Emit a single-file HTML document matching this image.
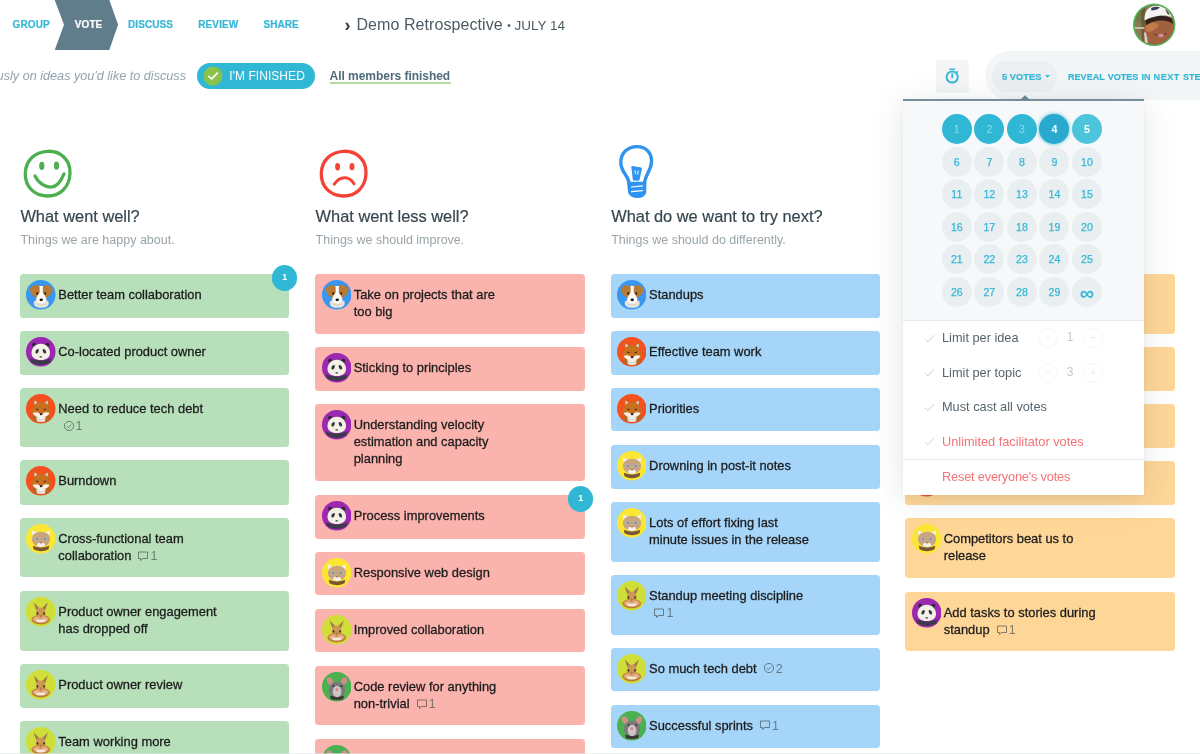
<!DOCTYPE html>
<html lang="en"><head><meta charset="utf-8"><title>Demo Retrospective</title>
<style>
*{box-sizing:border-box;margin:0;padding:0}
html,body{width:1200px;height:754px;overflow:hidden;background:#fff}
body{position:relative;font-family:"Liberation Sans",Arial,sans-serif;color:#222;-webkit-font-smoothing:antialiased}
.abs{position:absolute}
.step{position:absolute;top:18px;height:13px;line-height:13px;font-size:10px;font-weight:700;color:#36b7d6;letter-spacing:.09px;white-space:nowrap;-webkit-text-stroke:.2px currentColor}
.card{position:absolute;border-radius:3.500px}
.g{background:#b7dfb9}.r{background:#fbb3ae}.b{background:#a5d5f9}.o{background:#fed698}
.card .av{position:absolute;left:calc(6.300px + var(--dx));top:6px;width:29.500px;height:29.500px;display:block}
.card .t{position:absolute;left:calc(38.500px + var(--dx));top:11.900px;font-size:12.900px;line-height:17.300px;color:#1c1c1c;white-space:nowrap;-webkit-text-stroke:.28px #1c1c1c;letter-spacing:0}
.meta{color:rgba(60,70,70,.62);-webkit-text-stroke:0;font-size:12.500px;letter-spacing:0;margin-left:2.500px}
.meta.blk{margin-left:4.300px}
.mi{width:12px;height:12px;display:inline-block;vertical-align:-1.500px;margin-right:1px}
.badge{position:absolute;width:25.400px;height:25.400px;border-radius:50%;background:#2fb7d5;color:#fff;font-size:9px;font-weight:700;text-align:center;line-height:25.400px}
.h1{position:absolute;font-size:16.400px;line-height:20px;color:#37474f;white-space:nowrap;-webkit-text-stroke:.2px #37474f}
.h2{position:absolute;font-size:12.500px;line-height:16px;color:#99a4aa;white-space:nowrap}
.vc{position:absolute;width:30px;height:30px;border-radius:50%;background:#e9eef0;color:#36b7d6;font-size:10.600px;line-height:30px;text-align:center;-webkit-text-stroke:.25px #36b7d6}
.vc.on{background:#2fb7d5;color:#8fdbea;-webkit-text-stroke:0}
.mitem{position:absolute;left:942px;font-size:12.750px;line-height:16px;color:#56656d;white-space:nowrap}
.mitem.red{color:#f27275}
.chk{position:absolute;left:923.500px;width:11px;height:9px}
</style></head><body>

<svg class="abs" style="left:54px;top:0" width="66" height="51" viewBox="0 0 66 51"><path d="M.7 0 H55.300 L64.100 24.700 L55.300 50.100 H.7 L10 24.700Z" fill="#607d8b"/></svg>
<div class="step" style="left:12.600px">GROUP</div>
<div class="step" style="left:74.800px;color:#fff">VOTE</div>
<div class="step" style="left:128px">DISCUSS</div>
<div class="step" style="left:198.300px">REVIEW</div>
<div class="step" style="left:263.400px">SHARE</div>
<div class="abs" style="left:344.400px;top:13.600px;height:22px;line-height:22px;font-size:18px;font-weight:700;color:#3a3a3a;white-space:nowrap">&#8250;</div>
<div class="abs" style="left:356.400px;top:14px;height:22px;line-height:22px;font-size:16px;letter-spacing:.08px;color:#4b5a63;white-space:nowrap">Demo Retrospective</div>
<div class="abs" style="left:507.300px;top:15.400px;height:22px;line-height:22px;font-size:10px;color:#4b5a63;white-space:nowrap">&#8226;</div>
<div class="abs" style="left:514.600px;top:14.600px;height:22px;line-height:22px;font-size:13.500px;color:#4b5a63;white-space:nowrap">JULY 14</div>

<svg class="abs" style="left:1132px;top:3px" width="44" height="44" viewBox="0 0 44 44"><defs><clipPath id="uc"><circle cx="22.200" cy="21.800" r="19.600"/></clipPath></defs>
<circle cx="22.200" cy="21.800" r="21.200" fill="#4fb254"/><g clip-path="url(#uc)"><rect width="44" height="44" fill="#8b7a55"/>
<path d="M2 8 L14 4 L15 18 L6 20Z" fill="#6f7a44"/><path d="M9 6 L13 5 L14 40 L10 40Z" fill="#6b5a3a"/><path d="M2 24 H13 V26 H2Z" fill="#b9c3a4"/>
<path d="M12 44 C11 30 12 22 15 18 L41 15 C44 25 42 38 36 44Z" fill="#a2613e"/>
<path d="M14 22 C18 19 24 19 27 22 C24 27 18 30 14 28Z" fill="#c27a47"/>
<path d="M13.200 17.600 C17 14.500 23.800 12.600 30 12.800 C34 13 38.400 14.600 39.500 15.600 L41.500 21 C38 18.500 33 17 28 17.500 C22 18 17 19.800 14 22.500Z" fill="#33211c"/>
<path d="M12.600 17.500 C12 11 15 5.500 18.500 4.300 C22 2.600 27 2.400 31 3.600 C35.500 5 39 10 39.700 14.200 C36 12.600 31 12.200 26 12.900 C21 13.600 16 15.300 12.600 17.500Z" fill="#f4f2f0"/>
<path d="M19 5.200 C22 3.400 26 3.300 28 4.200 C26 6.500 22 7.600 19.500 7.500Z" fill="#39405a"/>
<path d="M33 6 C35.500 7.500 37.500 10 38 12 L35.500 11Z" fill="#5a4a44"/>
<ellipse cx="29" cy="32.500" rx="2.600" ry="1.700" fill="#d88aa8"/><path d="M22 31 L25 32.500 M32 31.500 L34.500 30.500" stroke="#5c3325" stroke-width="1"/>
<path d="M12 30 C13 36 13 40 12 44 L16 44 C16 38 15 33 13.500 29Z" fill="#d9d2c8"/></g></svg>

<div class="abs" style="left:-114px;top:68px;width:300px;text-align:right;font-size:12.650px;line-height:16px;font-style:italic;color:#93a2ab;white-space:nowrap">Vote anonymously on ideas you'd like to discuss</div>

<div class="abs" style="left:196.600px;top:63.200px;width:118.300px;height:26.200px;border-radius:13.100px;background:#2fb7d5"></div>
<svg class="abs" style="left:202.500px;top:66px" width="20" height="20" viewBox="0 0 20 20"><circle cx="10" cy="10" r="9.500" fill="#8bc34a"/><path d="M5.800 10.300 L8.700 13 L14.300 7.200" fill="none" stroke="#fff" stroke-width="1.700" stroke-linecap="round" stroke-linejoin="round"/></svg>
<div class="abs" style="left:229.300px;top:68.300px;font-size:12px;line-height:16px;color:#fff;white-space:nowrap;letter-spacing:.05px">I'M FINISHED</div>
<div class="abs" style="left:329.600px;top:68.400px;font-size:12px;line-height:16px;color:#4f6b7a;font-weight:700;white-space:nowrap;letter-spacing:-.04px">All members finished</div>
<div class="abs" style="left:329.600px;top:82.300px;width:121.200px;height:1.300px;background:#b4dba0"></div>

<div class="abs" style="left:936px;top:60px;width:33px;height:33px;border-radius:4px;background:#f3f5f6"></div>
<svg class="abs" style="left:944px;top:67px" width="17" height="17" viewBox="0 0 17 17"><circle cx="8.200" cy="10" r="5.600" fill="none" stroke="#3ab9d6" stroke-width="2"/><path d="M5.900 2.300 H10.600" fill="none" stroke="#3ab9d6" stroke-width="1.500" stroke-linecap="round"/><path d="M8.200 6.900 V10.500" fill="none" stroke="#3ab9d6" stroke-width="1.800" stroke-linecap="round"/><path d="M12.200 6 L13.300 4.900" stroke="#3ab9d6" stroke-width="1.700" stroke-linecap="round"/></svg>
<div class="abs" style="left:984.500px;top:50.500px;width:260px;height:49px;border-radius:24.500px;background:#f3f6f7"></div>
<div class="abs" style="left:991.800px;top:61px;width:65.500px;height:30.500px;border-radius:15.250px;background:#ebeff1"></div>
<div class="step" style="left:1002.400px;top:70px;font-size:9.800px;letter-spacing:0;transform:scaleX(.952);transform-origin:0 50%">5 VOTES</div>
<svg class="abs" style="left:1045.100px;top:75px" width="5" height="3.400" viewBox="0 0 6 4"><path d="M0 0 H6 L3 3.400Z" fill="#36b7d6"/></svg>
<div class="step" id="rv" style="left:1068.100px;top:70px;font-size:9.800px;letter-spacing:0;word-spacing:.55px;transform:scaleX(.926);transform-origin:0 50%">REVEAL VOTES IN <span style="letter-spacing:.6px">NEXT</span> STEP</div>

<svg class="abs" style="left:20px;top:146px" width="56" height="56" viewBox="0 0 56 56" fill="none" stroke="#4caf50" stroke-linecap="round"><path d="M27.500 5.300 C41 4.600 50.600 14.500 50 27.500 C49.500 41 40 50.400 27 50 C14 49.600 4.800 40.500 5.300 27 C5.800 14.500 14.500 6 27.500 5.300Z" stroke-width="3.300"/><ellipse cx="21.800" cy="19.900" rx="1.800" ry="3.300" fill="#4caf50" stroke-width="1.600"/><ellipse cx="36.500" cy="19.700" rx="1.800" ry="3.300" fill="#4caf50" stroke-width="1.600"/><path d="M15 30 C19 38 26 41.500 31.500 41 C37 40.500 41.500 34 44 27.800" stroke-width="3.200"/></svg>
<svg class="abs" style="left:314.500px;top:146px" width="56" height="56" viewBox="0 0 56 56" fill="none" stroke="#f44336" stroke-linecap="round"><path d="M28.500 5.300 C42 4.600 51.600 14.500 51 27.500 C50.500 41 41 50.400 28 50 C15 49.600 5.800 40.500 6.300 27 C6.800 14.500 15.500 6 28.500 5.300Z" stroke-width="3.300"/><ellipse cx="22.600" cy="20.800" rx="1.700" ry="2.900" fill="#f44336" stroke-width="1.600"/><ellipse cx="37" cy="20.600" rx="1.700" ry="2.900" fill="#f44336" stroke-width="1.600"/><path d="M19.300 38.200 C25 30 34 29.500 39 37.800" stroke-width="3"/></svg>
<svg class="abs" style="left:610px;top:142px" width="56" height="60" viewBox="0 0 56 60" fill="none" stroke="#2f93f0" stroke-linecap="round" stroke-linejoin="round"><path d="M19 40.500 C18 33 10.500 30 10.800 20 C11 10.500 18 4.800 27 4.600 C36 4.500 42 11 41.500 20 C41 29 35.500 32 34.500 40.500" stroke-width="3.400"/><path d="M22.300 25 L31 26.500 L28.500 37.800 L23.800 37.500Z" fill="#2f93f0" stroke-width="2"/><path d="M18.300 41 L35.300 41 L35 50.500 C33 56.300 22 56.300 19.300 50.500Z" fill="#2f93f0" stroke-width="2.400"/><path d="M21.500 45 L32.500 43.800 M21.500 49.600 L32.500 48.600" stroke="#fff" stroke-width="1.200"/><path d="M25 28.300 L25.700 31.800 M28.200 28.900 L27.800 32.300" stroke="#fff" stroke-width=".9"/></svg>

<div class="h1" style="left:20.4px;top:206.300px">What went well?</div>
<div class="h2" style="left:20.4px;top:231.800px">Things we are happy about.</div>
<div class="h1" style="left:315.59999999999997px;top:206.300px">What went less well?</div>
<div class="h2" style="left:315.59999999999997px;top:231.800px">Things we should improve.</div>
<div class="h1" style="left:611.1999999999999px;top:206.300px">What do we want to try next?</div>
<div class="h2" style="left:611.1999999999999px;top:231.800px">Things we should do differently.</div>
<div class="card g" style="--dx:-0.2px;left:20px;top:274px;width:269px;height:44px"><svg class="av" viewBox="0 0 30 30"><circle cx="15" cy="15" r="15" fill="#3a97ef"/>
<path d="M8 22 C7.300 26 10 28.300 15.500 28.300 C21 28.300 23.700 26 23 22 C21 19 10 19 8 22Z" fill="#e7e3dc"/>
<path d="M3.800 9.700 C5 6 8.500 4.700 11.500 5.400 L13.500 6.200 L17.500 6.200 L19.500 5.400 C22.500 4.700 26 6 27.200 9.900 C26.700 13 24.700 15.600 22.600 16.600 L20 19.400 L11 19.400 L8.400 16.600 C6.300 15.600 4.300 13 3.800 9.700Z" fill="#b87a35"/>
<path d="M13.700 6 L17.300 6 L17 12 C17.200 14 19.700 16 20.700 19 C20.700 22.200 18 24 15.500 24 C13 24 10.300 22.200 10.300 19 C11.300 16 13.800 14 14 12Z" fill="#fbfaf7"/>
<circle cx="11.400" cy="13.700" r="1.150" fill="#2a1e18"/><circle cx="19.600" cy="13.700" r="1.150" fill="#2a1e18"/>
<ellipse cx="15.500" cy="20.200" rx="1.750" ry="1.300" fill="#1b1718"/>
<path d="M11 24.500 Q15.500 26.500 20 24.500" stroke="#cfc9c0" stroke-width=".7" fill="none"/></svg><div class="t">Better team collaboration</div></div>
<div class="badge" style="left:272px;top:265.3px">1</div>
<div class="card g" style="--dx:-0.2px;left:20px;top:331px;width:269px;height:44px"><svg class="av" viewBox="0 0 30 30"><circle cx="15" cy="15" r="15" fill="#9c27b0"/>
<path d="M3.800 21.600 Q15 26.500 26.200 21.600 L24.500 26 Q15 31 5.500 26Z" fill="#393c47"/>
<circle cx="8.300" cy="8" r="2.100" fill="#2b2a30"/><circle cx="21.700" cy="8" r="2.100" fill="#2b2a30"/>
<path d="M15 6.800 C20.500 6.800 24.600 11 24.400 16.500 C24.200 21 20.500 23.400 15 23.400 C9.500 23.400 5.800 21 5.600 16.500 C5.400 11 9.500 6.800 15 6.800Z" fill="#f3f0e5"/>
<ellipse cx="11.300" cy="14.500" rx="1.450" ry="2.500" transform="rotate(28 11.300 14.500)" fill="#34333a"/>
<ellipse cx="18.700" cy="14.500" rx="1.450" ry="2.500" transform="rotate(-28 18.700 14.500)" fill="#34333a"/>
<ellipse cx="15" cy="20.200" rx="1.500" ry=".95" fill="#5f6a6b"/></svg><div class="t">Co-located product owner</div></div>
<div class="card g" style="--dx:-0.2px;left:20px;top:388px;width:269px;height:59px"><svg class="av" viewBox="0 0 30 30"><circle cx="15" cy="15" r="15" fill="#f4511e"/>
<path d="M6.500 22 C6 25 8 27.500 11 28.300 L20 28.300 C23 27.500 25 25 24.500 22Z" fill="#b8651f"/>
<path d="M10.200 21.500 L20.200 21.500 L19.400 27.600 Q15.200 29.600 11 27.600Z" fill="#e4ded6"/>
<path d="M7.700 4.800 L13.400 8.800 L8 12.500Z" fill="#c56a1f"/><path d="M23 4.800 L17.300 8.800 L22.700 12.500Z" fill="#c56a1f"/>
<path d="M8.500 6.600 L11.800 9 L8.700 11Z" fill="#dfdad8"/><path d="M22.200 6.600 L18.900 9 L22 11Z" fill="#dfdad8"/>
<path d="M15.350 8.200 C19 8.200 22.500 10.500 23.500 14 C25.500 16 25.600 18.500 24.500 20.200 L15.350 23 L6.200 20.200 C5.100 18.500 5.200 16 7.200 14 C8.200 10.500 11.700 8.200 15.350 8.200Z" fill="#c8701f"/>
<path d="M6.700 19.300 C9.500 18 12.500 18.600 13.800 20 L15.350 21.300 L16.900 20 C18.200 18.600 21.200 18 24 19.300 C23 21.600 20.500 23 18.500 23 L17.500 25.200 L13.200 25.200 L12.200 23 C10.200 23 7.700 21.600 6.700 19.300Z" fill="#f7f0e6"/>
<path d="M10.300 14.700 L13.500 15.800 L10.900 16.500Z" fill="#33251a"/><path d="M20.400 14.700 L17.200 15.800 L19.800 16.500Z" fill="#33251a"/>
<ellipse cx="15.350" cy="20.500" rx="1.300" ry="1" fill="#1d1512"/></svg><div class="t">Need to reduce tech debt<br><span class="meta blk"><svg class="mi" viewBox="0 0 12 12"><circle cx="6" cy="6" r="4.600" fill="none" stroke="currentColor" stroke-width="1"/><path d="M3.800 6.200 L5.400 7.700 L8.300 4.600" fill="none" stroke="currentColor" stroke-width="1"/></svg>1</span></div></div>
<div class="card g" style="--dx:-0.2px;left:20px;top:460px;width:269px;height:45px"><svg class="av" viewBox="0 0 30 30"><circle cx="15" cy="15" r="15" fill="#f4511e"/>
<path d="M6.500 22 C6 25 8 27.500 11 28.300 L20 28.300 C23 27.500 25 25 24.500 22Z" fill="#b8651f"/>
<path d="M10.200 21.500 L20.200 21.500 L19.400 27.600 Q15.200 29.600 11 27.600Z" fill="#e4ded6"/>
<path d="M7.700 4.800 L13.400 8.800 L8 12.500Z" fill="#c56a1f"/><path d="M23 4.800 L17.300 8.800 L22.700 12.500Z" fill="#c56a1f"/>
<path d="M8.500 6.600 L11.800 9 L8.700 11Z" fill="#dfdad8"/><path d="M22.200 6.600 L18.900 9 L22 11Z" fill="#dfdad8"/>
<path d="M15.350 8.200 C19 8.200 22.500 10.500 23.500 14 C25.500 16 25.600 18.500 24.500 20.200 L15.350 23 L6.200 20.200 C5.100 18.500 5.200 16 7.200 14 C8.200 10.500 11.700 8.200 15.350 8.200Z" fill="#c8701f"/>
<path d="M6.700 19.300 C9.500 18 12.500 18.600 13.800 20 L15.350 21.300 L16.900 20 C18.200 18.600 21.200 18 24 19.300 C23 21.600 20.500 23 18.500 23 L17.500 25.200 L13.200 25.200 L12.200 23 C10.200 23 7.700 21.600 6.700 19.300Z" fill="#f7f0e6"/>
<path d="M10.300 14.700 L13.500 15.800 L10.900 16.500Z" fill="#33251a"/><path d="M20.400 14.700 L17.200 15.800 L19.800 16.500Z" fill="#33251a"/>
<ellipse cx="15.350" cy="20.500" rx="1.300" ry="1" fill="#1d1512"/></svg><div class="t">Burndown</div></div>
<div class="card g" style="--dx:-0.2px;left:20px;top:518px;width:269px;height:59px"><svg class="av" viewBox="0 0 30 30"><circle cx="15" cy="15" r="15" fill="#fbe634"/>
<path d="M7 22.200 Q15.200 25.500 23.600 22.200 L23 25.800 Q15.200 29.600 7.600 25.800Z" fill="#7a5634"/>
<path d="M5.900 6.400 L11.200 8.600 L6.700 12.800Z" fill="#f7efe6"/><path d="M24.600 6.400 L19.300 8.600 L23.800 12.800Z" fill="#f7efe6"/>
<path d="M15.250 7.800 C20.500 7.800 24.500 10.800 24.500 15.300 C24.500 19.800 20.500 23.200 15.250 23.200 C10 23.200 6 19.800 6 15.300 C6 10.800 10 7.800 15.250 7.800Z" fill="#c9a57f"/>
<ellipse cx="15.250" cy="21.200" rx="4.200" ry="2.100" fill="#f6f0e8"/>
<ellipse cx="11" cy="15.300" rx="2" ry="1.700" fill="#9fb9c9"/><ellipse cx="19.400" cy="15.300" rx="2" ry="1.700" fill="#9fb9c9"/>
<circle cx="11.200" cy="15.300" r=".7" fill="#3a4656"/><circle cx="19.200" cy="15.300" r=".7" fill="#3a4656"/>
<path d="M14.300 18.700 L16.200 18.700 L15.250 20Z" fill="#4a3020"/></svg><div class="t">Cross-functional team<br>collaboration <span class="meta"><svg class="mi" viewBox="0 0 12 12"><path d="M1.500 2 H10.500 V8.500 H5.500 L3.600 10.600 V8.500 H1.500Z" fill="none" stroke="currentColor" stroke-width="1" stroke-linejoin="round"/></svg>1</span></div></div>
<div class="card g" style="--dx:-0.2px;left:20px;top:591px;width:269px;height:60px"><svg class="av" viewBox="0 0 30 30"><circle cx="15" cy="15" r="15" fill="#cfdf38"/>
<path d="M8 5.600 C9.600 7.500 12.800 10.300 14.600 12.300 L11 13.800 C9.600 11.300 8.300 8.300 8 5.600Z" fill="#a67a48"/>
<path d="M22 5.600 C20.400 7.500 17.200 10.300 15.400 12.300 L19 13.800 C20.400 11.300 21.700 8.300 22 5.600Z" fill="#a67a48"/>
<ellipse cx="15" cy="16" rx="4.900" ry="5.200" fill="#cb9856"/>
<ellipse cx="15" cy="23" rx="9.500" ry="4.900" fill="#b97a35"/>
<ellipse cx="15" cy="22.500" rx="8.200" ry="3.900" fill="#d9a066"/>
<ellipse cx="10.800" cy="22.600" rx="2.500" ry="1.700" fill="#ecb79a"/><ellipse cx="19.200" cy="22.600" rx="2.500" ry="1.700" fill="#ecb79a"/>
<ellipse cx="15" cy="24.300" rx="4.600" ry="1.500" fill="#f5e9dc"/>
<ellipse cx="11.700" cy="16.700" rx=".8" ry="1.200" fill="#2f2016"/><ellipse cx="18.300" cy="16.700" rx=".8" ry="1.200" fill="#2f2016"/>
<path d="M13.800 18.600 L16.200 18.600 L15 21Z" fill="#a8713a"/></svg><div class="t">Product owner engagement<br>has dropped off</div></div>
<div class="card g" style="--dx:-0.2px;left:20px;top:664px;width:269px;height:44px"><svg class="av" viewBox="0 0 30 30"><circle cx="15" cy="15" r="15" fill="#cfdf38"/>
<path d="M8 5.600 C9.600 7.500 12.800 10.300 14.600 12.300 L11 13.800 C9.600 11.300 8.300 8.300 8 5.600Z" fill="#a67a48"/>
<path d="M22 5.600 C20.400 7.500 17.200 10.300 15.400 12.300 L19 13.800 C20.400 11.300 21.700 8.300 22 5.600Z" fill="#a67a48"/>
<ellipse cx="15" cy="16" rx="4.900" ry="5.200" fill="#cb9856"/>
<ellipse cx="15" cy="23" rx="9.500" ry="4.900" fill="#b97a35"/>
<ellipse cx="15" cy="22.500" rx="8.200" ry="3.900" fill="#d9a066"/>
<ellipse cx="10.800" cy="22.600" rx="2.500" ry="1.700" fill="#ecb79a"/><ellipse cx="19.200" cy="22.600" rx="2.500" ry="1.700" fill="#ecb79a"/>
<ellipse cx="15" cy="24.300" rx="4.600" ry="1.500" fill="#f5e9dc"/>
<ellipse cx="11.700" cy="16.700" rx=".8" ry="1.200" fill="#2f2016"/><ellipse cx="18.300" cy="16.700" rx=".8" ry="1.200" fill="#2f2016"/>
<path d="M13.800 18.600 L16.200 18.600 L15 21Z" fill="#a8713a"/></svg><div class="t">Product owner review</div></div>
<div class="card g" style="--dx:-0.2px;left:20px;top:721px;width:269px;height:44px"><svg class="av" viewBox="0 0 30 30"><circle cx="15" cy="15" r="15" fill="#cfdf38"/>
<path d="M8 5.600 C9.600 7.500 12.800 10.300 14.600 12.300 L11 13.800 C9.600 11.300 8.300 8.300 8 5.600Z" fill="#a67a48"/>
<path d="M22 5.600 C20.400 7.500 17.200 10.300 15.400 12.300 L19 13.800 C20.400 11.300 21.700 8.300 22 5.600Z" fill="#a67a48"/>
<ellipse cx="15" cy="16" rx="4.900" ry="5.200" fill="#cb9856"/>
<ellipse cx="15" cy="23" rx="9.500" ry="4.900" fill="#b97a35"/>
<ellipse cx="15" cy="22.500" rx="8.200" ry="3.900" fill="#d9a066"/>
<ellipse cx="10.800" cy="22.600" rx="2.500" ry="1.700" fill="#ecb79a"/><ellipse cx="19.200" cy="22.600" rx="2.500" ry="1.700" fill="#ecb79a"/>
<ellipse cx="15" cy="24.300" rx="4.600" ry="1.500" fill="#f5e9dc"/>
<ellipse cx="11.700" cy="16.700" rx=".8" ry="1.200" fill="#2f2016"/><ellipse cx="18.300" cy="16.700" rx=".8" ry="1.200" fill="#2f2016"/>
<path d="M13.800 18.600 L16.200 18.600 L15 21Z" fill="#a8713a"/></svg><div class="t">Team working more</div></div>
<div class="card r" style="--dx:0.2px;left:315px;top:274px;width:270px;height:60px"><svg class="av" viewBox="0 0 30 30"><circle cx="15" cy="15" r="15" fill="#3a97ef"/>
<path d="M8 22 C7.300 26 10 28.300 15.500 28.300 C21 28.300 23.700 26 23 22 C21 19 10 19 8 22Z" fill="#e7e3dc"/>
<path d="M3.800 9.700 C5 6 8.500 4.700 11.500 5.400 L13.500 6.200 L17.500 6.200 L19.500 5.400 C22.500 4.700 26 6 27.200 9.900 C26.700 13 24.700 15.600 22.600 16.600 L20 19.400 L11 19.400 L8.400 16.600 C6.300 15.600 4.300 13 3.800 9.700Z" fill="#b87a35"/>
<path d="M13.700 6 L17.300 6 L17 12 C17.200 14 19.700 16 20.700 19 C20.700 22.200 18 24 15.500 24 C13 24 10.300 22.200 10.300 19 C11.300 16 13.800 14 14 12Z" fill="#fbfaf7"/>
<circle cx="11.400" cy="13.700" r="1.150" fill="#2a1e18"/><circle cx="19.600" cy="13.700" r="1.150" fill="#2a1e18"/>
<ellipse cx="15.500" cy="20.200" rx="1.750" ry="1.300" fill="#1b1718"/>
<path d="M11 24.500 Q15.500 26.500 20 24.500" stroke="#cfc9c0" stroke-width=".7" fill="none"/></svg><div class="t">Take on projects that are<br>too big</div></div>
<div class="card r" style="--dx:0.2px;left:315px;top:347px;width:270px;height:44px"><svg class="av" viewBox="0 0 30 30"><circle cx="15" cy="15" r="15" fill="#9c27b0"/>
<path d="M3.800 21.600 Q15 26.500 26.200 21.600 L24.500 26 Q15 31 5.500 26Z" fill="#393c47"/>
<circle cx="8.300" cy="8" r="2.100" fill="#2b2a30"/><circle cx="21.700" cy="8" r="2.100" fill="#2b2a30"/>
<path d="M15 6.800 C20.500 6.800 24.600 11 24.400 16.500 C24.200 21 20.500 23.400 15 23.400 C9.500 23.400 5.800 21 5.600 16.500 C5.400 11 9.500 6.800 15 6.800Z" fill="#f3f0e5"/>
<ellipse cx="11.300" cy="14.500" rx="1.450" ry="2.500" transform="rotate(28 11.300 14.500)" fill="#34333a"/>
<ellipse cx="18.700" cy="14.500" rx="1.450" ry="2.500" transform="rotate(-28 18.700 14.500)" fill="#34333a"/>
<ellipse cx="15" cy="20.200" rx="1.500" ry=".95" fill="#5f6a6b"/></svg><div class="t">Sticking to principles</div></div>
<div class="card r" style="--dx:0.2px;left:315px;top:404px;width:270px;height:77px"><svg class="av" viewBox="0 0 30 30"><circle cx="15" cy="15" r="15" fill="#9c27b0"/>
<path d="M3.800 21.600 Q15 26.500 26.200 21.600 L24.500 26 Q15 31 5.500 26Z" fill="#393c47"/>
<circle cx="8.300" cy="8" r="2.100" fill="#2b2a30"/><circle cx="21.700" cy="8" r="2.100" fill="#2b2a30"/>
<path d="M15 6.800 C20.500 6.800 24.600 11 24.400 16.500 C24.200 21 20.500 23.400 15 23.400 C9.500 23.400 5.800 21 5.600 16.500 C5.400 11 9.500 6.800 15 6.800Z" fill="#f3f0e5"/>
<ellipse cx="11.300" cy="14.500" rx="1.450" ry="2.500" transform="rotate(28 11.300 14.500)" fill="#34333a"/>
<ellipse cx="18.700" cy="14.500" rx="1.450" ry="2.500" transform="rotate(-28 18.700 14.500)" fill="#34333a"/>
<ellipse cx="15" cy="20.200" rx="1.500" ry=".95" fill="#5f6a6b"/></svg><div class="t">Understanding velocity<br>estimation and capacity<br>planning</div></div>
<div class="card r" style="--dx:0.2px;left:315px;top:495px;width:270px;height:44px"><svg class="av" viewBox="0 0 30 30"><circle cx="15" cy="15" r="15" fill="#9c27b0"/>
<path d="M3.800 21.600 Q15 26.500 26.200 21.600 L24.500 26 Q15 31 5.500 26Z" fill="#393c47"/>
<circle cx="8.300" cy="8" r="2.100" fill="#2b2a30"/><circle cx="21.700" cy="8" r="2.100" fill="#2b2a30"/>
<path d="M15 6.800 C20.500 6.800 24.600 11 24.400 16.500 C24.200 21 20.500 23.400 15 23.400 C9.500 23.400 5.800 21 5.600 16.500 C5.400 11 9.500 6.800 15 6.800Z" fill="#f3f0e5"/>
<ellipse cx="11.300" cy="14.500" rx="1.450" ry="2.500" transform="rotate(28 11.300 14.500)" fill="#34333a"/>
<ellipse cx="18.700" cy="14.500" rx="1.450" ry="2.500" transform="rotate(-28 18.700 14.500)" fill="#34333a"/>
<ellipse cx="15" cy="20.200" rx="1.500" ry=".95" fill="#5f6a6b"/></svg><div class="t">Process improvements</div></div>
<div class="badge" style="left:568px;top:486.3px">1</div>
<div class="card r" style="--dx:0.2px;left:315px;top:552px;width:270px;height:43px"><svg class="av" viewBox="0 0 30 30"><circle cx="15" cy="15" r="15" fill="#fbe634"/>
<path d="M7 22.200 Q15.200 25.500 23.600 22.200 L23 25.800 Q15.200 29.600 7.600 25.800Z" fill="#7a5634"/>
<path d="M5.900 6.400 L11.200 8.600 L6.700 12.800Z" fill="#f7efe6"/><path d="M24.600 6.400 L19.300 8.600 L23.800 12.800Z" fill="#f7efe6"/>
<path d="M15.250 7.800 C20.500 7.800 24.500 10.800 24.500 15.300 C24.500 19.800 20.500 23.200 15.250 23.200 C10 23.200 6 19.800 6 15.300 C6 10.800 10 7.800 15.250 7.800Z" fill="#c9a57f"/>
<ellipse cx="15.250" cy="21.200" rx="4.200" ry="2.100" fill="#f6f0e8"/>
<ellipse cx="11" cy="15.300" rx="2" ry="1.700" fill="#9fb9c9"/><ellipse cx="19.400" cy="15.300" rx="2" ry="1.700" fill="#9fb9c9"/>
<circle cx="11.200" cy="15.300" r=".7" fill="#3a4656"/><circle cx="19.200" cy="15.300" r=".7" fill="#3a4656"/>
<path d="M14.300 18.700 L16.200 18.700 L15.250 20Z" fill="#4a3020"/></svg><div class="t">Responsive web design</div></div>
<div class="card r" style="--dx:0.2px;left:315px;top:609px;width:270px;height:43px"><svg class="av" viewBox="0 0 30 30"><circle cx="15" cy="15" r="15" fill="#cfdf38"/>
<path d="M8 5.600 C9.600 7.500 12.800 10.300 14.600 12.300 L11 13.800 C9.600 11.300 8.300 8.300 8 5.600Z" fill="#a67a48"/>
<path d="M22 5.600 C20.400 7.500 17.200 10.300 15.400 12.300 L19 13.800 C20.400 11.300 21.700 8.300 22 5.600Z" fill="#a67a48"/>
<ellipse cx="15" cy="16" rx="4.900" ry="5.200" fill="#cb9856"/>
<ellipse cx="15" cy="23" rx="9.500" ry="4.900" fill="#b97a35"/>
<ellipse cx="15" cy="22.500" rx="8.200" ry="3.900" fill="#d9a066"/>
<ellipse cx="10.800" cy="22.600" rx="2.500" ry="1.700" fill="#ecb79a"/><ellipse cx="19.200" cy="22.600" rx="2.500" ry="1.700" fill="#ecb79a"/>
<ellipse cx="15" cy="24.300" rx="4.600" ry="1.500" fill="#f5e9dc"/>
<ellipse cx="11.700" cy="16.700" rx=".8" ry="1.200" fill="#2f2016"/><ellipse cx="18.300" cy="16.700" rx=".8" ry="1.200" fill="#2f2016"/>
<path d="M13.800 18.600 L16.200 18.600 L15 21Z" fill="#a8713a"/></svg><div class="t">Improved collaboration</div></div>
<div class="card r" style="--dx:0.2px;left:315px;top:666px;width:270px;height:59px"><svg class="av" viewBox="0 0 30 30"><circle cx="15" cy="15" r="15" fill="#4caf50"/>
<ellipse cx="8.100" cy="9.200" rx="2.900" ry="4" transform="rotate(-28 8.100 9.200)" fill="#cf8f89"/><ellipse cx="22.300" cy="9.200" rx="2.900" ry="4" transform="rotate(28 22.300 9.200)" fill="#cf8f89"/>
<path d="M15.300 9.800 C19.500 9.800 23 12.500 23.400 17.500 C23.700 22 21 26 15.300 26.200 C9.600 26 6.900 22 7.200 17.500 C7.600 12.500 11.100 9.800 15.300 9.800Z" fill="#7b787c"/>
<path d="M8.200 24 Q15.300 27 22.400 24 L21.500 27.600 Q15.300 29.200 9.100 27.600Z" fill="#3b3531"/>
<ellipse cx="15.300" cy="19.800" rx="4.400" ry="5.800" fill="#cdc5c4"/>
<circle cx="11.600" cy="14.300" r=".95" fill="#2a2223"/><circle cx="19.600" cy="14.300" r=".95" fill="#2a2223"/>
<ellipse cx="15.100" cy="18" rx="1.400" ry="1.700" fill="#d88484"/></svg><div class="t">Code review for anything<br>non-trivial <span class="meta"><svg class="mi" viewBox="0 0 12 12"><path d="M1.500 2 H10.500 V8.500 H5.500 L3.600 10.600 V8.500 H1.500Z" fill="none" stroke="currentColor" stroke-width="1" stroke-linejoin="round"/></svg>1</span></div></div>
<div class="card r" style="--dx:0.2px;left:315px;top:739px;width:270px;height:44px"><svg class="av" viewBox="0 0 30 30"><circle cx="15" cy="15" r="15" fill="#4caf50"/>
<ellipse cx="8.100" cy="9.200" rx="2.900" ry="4" transform="rotate(-28 8.100 9.200)" fill="#cf8f89"/><ellipse cx="22.300" cy="9.200" rx="2.900" ry="4" transform="rotate(28 22.300 9.200)" fill="#cf8f89"/>
<path d="M15.300 9.800 C19.500 9.800 23 12.500 23.400 17.500 C23.700 22 21 26 15.300 26.200 C9.600 26 6.900 22 7.200 17.500 C7.600 12.500 11.100 9.800 15.300 9.800Z" fill="#7b787c"/>
<path d="M8.200 24 Q15.300 27 22.400 24 L21.500 27.600 Q15.300 29.200 9.100 27.600Z" fill="#3b3531"/>
<ellipse cx="15.300" cy="19.800" rx="4.400" ry="5.800" fill="#cdc5c4"/>
<circle cx="11.600" cy="14.300" r=".95" fill="#2a2223"/><circle cx="19.600" cy="14.300" r=".95" fill="#2a2223"/>
<ellipse cx="15.100" cy="18" rx="1.400" ry="1.700" fill="#d88484"/></svg><div class="t">Daily standups</div></div>
<div class="card b" style="--dx:-0.4px;left:611px;top:274px;width:268.5px;height:44px"><svg class="av" viewBox="0 0 30 30"><circle cx="15" cy="15" r="15" fill="#3a97ef"/>
<path d="M8 22 C7.300 26 10 28.300 15.500 28.300 C21 28.300 23.700 26 23 22 C21 19 10 19 8 22Z" fill="#e7e3dc"/>
<path d="M3.800 9.700 C5 6 8.500 4.700 11.500 5.400 L13.500 6.200 L17.500 6.200 L19.500 5.400 C22.500 4.700 26 6 27.200 9.900 C26.700 13 24.700 15.600 22.600 16.600 L20 19.400 L11 19.400 L8.400 16.600 C6.300 15.600 4.300 13 3.800 9.700Z" fill="#b87a35"/>
<path d="M13.700 6 L17.300 6 L17 12 C17.200 14 19.700 16 20.700 19 C20.700 22.200 18 24 15.500 24 C13 24 10.300 22.200 10.300 19 C11.300 16 13.800 14 14 12Z" fill="#fbfaf7"/>
<circle cx="11.400" cy="13.700" r="1.150" fill="#2a1e18"/><circle cx="19.600" cy="13.700" r="1.150" fill="#2a1e18"/>
<ellipse cx="15.500" cy="20.200" rx="1.750" ry="1.300" fill="#1b1718"/>
<path d="M11 24.500 Q15.500 26.500 20 24.500" stroke="#cfc9c0" stroke-width=".7" fill="none"/></svg><div class="t">Standups</div></div>
<div class="card b" style="--dx:-0.4px;left:611px;top:331px;width:268.5px;height:44px"><svg class="av" viewBox="0 0 30 30"><circle cx="15" cy="15" r="15" fill="#f4511e"/>
<path d="M6.500 22 C6 25 8 27.500 11 28.300 L20 28.300 C23 27.500 25 25 24.500 22Z" fill="#b8651f"/>
<path d="M10.200 21.500 L20.200 21.500 L19.400 27.600 Q15.200 29.600 11 27.600Z" fill="#e4ded6"/>
<path d="M7.700 4.800 L13.400 8.800 L8 12.500Z" fill="#c56a1f"/><path d="M23 4.800 L17.300 8.800 L22.700 12.500Z" fill="#c56a1f"/>
<path d="M8.500 6.600 L11.800 9 L8.700 11Z" fill="#dfdad8"/><path d="M22.200 6.600 L18.900 9 L22 11Z" fill="#dfdad8"/>
<path d="M15.350 8.200 C19 8.200 22.500 10.500 23.500 14 C25.500 16 25.600 18.500 24.500 20.200 L15.350 23 L6.200 20.200 C5.100 18.500 5.200 16 7.200 14 C8.200 10.500 11.700 8.200 15.350 8.200Z" fill="#c8701f"/>
<path d="M6.700 19.300 C9.500 18 12.500 18.600 13.800 20 L15.350 21.300 L16.900 20 C18.200 18.600 21.200 18 24 19.300 C23 21.600 20.500 23 18.500 23 L17.500 25.200 L13.200 25.200 L12.200 23 C10.200 23 7.700 21.600 6.700 19.300Z" fill="#f7f0e6"/>
<path d="M10.300 14.700 L13.500 15.800 L10.900 16.500Z" fill="#33251a"/><path d="M20.400 14.700 L17.200 15.800 L19.800 16.500Z" fill="#33251a"/>
<ellipse cx="15.350" cy="20.500" rx="1.300" ry="1" fill="#1d1512"/></svg><div class="t">Effective team work</div></div>
<div class="card b" style="--dx:-0.4px;left:611px;top:388px;width:268.5px;height:43px"><svg class="av" viewBox="0 0 30 30"><circle cx="15" cy="15" r="15" fill="#f4511e"/>
<path d="M6.500 22 C6 25 8 27.500 11 28.300 L20 28.300 C23 27.500 25 25 24.500 22Z" fill="#b8651f"/>
<path d="M10.200 21.500 L20.200 21.500 L19.400 27.600 Q15.200 29.600 11 27.600Z" fill="#e4ded6"/>
<path d="M7.700 4.800 L13.400 8.800 L8 12.500Z" fill="#c56a1f"/><path d="M23 4.800 L17.300 8.800 L22.700 12.500Z" fill="#c56a1f"/>
<path d="M8.500 6.600 L11.800 9 L8.700 11Z" fill="#dfdad8"/><path d="M22.200 6.600 L18.900 9 L22 11Z" fill="#dfdad8"/>
<path d="M15.350 8.200 C19 8.200 22.500 10.500 23.500 14 C25.500 16 25.600 18.500 24.500 20.200 L15.350 23 L6.200 20.200 C5.100 18.500 5.200 16 7.200 14 C8.200 10.500 11.700 8.200 15.350 8.200Z" fill="#c8701f"/>
<path d="M6.700 19.300 C9.500 18 12.500 18.600 13.800 20 L15.350 21.300 L16.900 20 C18.200 18.600 21.200 18 24 19.300 C23 21.600 20.500 23 18.500 23 L17.500 25.200 L13.200 25.200 L12.200 23 C10.200 23 7.700 21.600 6.700 19.300Z" fill="#f7f0e6"/>
<path d="M10.300 14.700 L13.500 15.800 L10.900 16.500Z" fill="#33251a"/><path d="M20.400 14.700 L17.200 15.800 L19.800 16.500Z" fill="#33251a"/>
<ellipse cx="15.350" cy="20.500" rx="1.300" ry="1" fill="#1d1512"/></svg><div class="t">Priorities</div></div>
<div class="card b" style="--dx:-0.4px;left:611px;top:445px;width:268.5px;height:44px"><svg class="av" viewBox="0 0 30 30"><circle cx="15" cy="15" r="15" fill="#fbe634"/>
<path d="M7 22.200 Q15.200 25.500 23.600 22.200 L23 25.800 Q15.200 29.600 7.600 25.800Z" fill="#7a5634"/>
<path d="M5.900 6.400 L11.200 8.600 L6.700 12.800Z" fill="#f7efe6"/><path d="M24.600 6.400 L19.300 8.600 L23.800 12.800Z" fill="#f7efe6"/>
<path d="M15.250 7.800 C20.500 7.800 24.500 10.800 24.500 15.300 C24.500 19.800 20.500 23.200 15.250 23.200 C10 23.200 6 19.800 6 15.300 C6 10.800 10 7.800 15.250 7.800Z" fill="#c9a57f"/>
<ellipse cx="15.250" cy="21.200" rx="4.200" ry="2.100" fill="#f6f0e8"/>
<ellipse cx="11" cy="15.300" rx="2" ry="1.700" fill="#9fb9c9"/><ellipse cx="19.400" cy="15.300" rx="2" ry="1.700" fill="#9fb9c9"/>
<circle cx="11.200" cy="15.300" r=".7" fill="#3a4656"/><circle cx="19.200" cy="15.300" r=".7" fill="#3a4656"/>
<path d="M14.300 18.700 L16.200 18.700 L15.250 20Z" fill="#4a3020"/></svg><div class="t">Drowning in post-it notes</div></div>
<div class="card b" style="--dx:-0.4px;left:611px;top:502px;width:268.5px;height:60px"><svg class="av" viewBox="0 0 30 30"><circle cx="15" cy="15" r="15" fill="#fbe634"/>
<path d="M7 22.200 Q15.200 25.500 23.600 22.200 L23 25.800 Q15.200 29.600 7.600 25.800Z" fill="#7a5634"/>
<path d="M5.900 6.400 L11.200 8.600 L6.700 12.800Z" fill="#f7efe6"/><path d="M24.600 6.400 L19.300 8.600 L23.800 12.800Z" fill="#f7efe6"/>
<path d="M15.250 7.800 C20.500 7.800 24.500 10.800 24.500 15.300 C24.500 19.800 20.500 23.200 15.250 23.200 C10 23.200 6 19.800 6 15.300 C6 10.800 10 7.800 15.250 7.800Z" fill="#c9a57f"/>
<ellipse cx="15.250" cy="21.200" rx="4.200" ry="2.100" fill="#f6f0e8"/>
<ellipse cx="11" cy="15.300" rx="2" ry="1.700" fill="#9fb9c9"/><ellipse cx="19.400" cy="15.300" rx="2" ry="1.700" fill="#9fb9c9"/>
<circle cx="11.200" cy="15.300" r=".7" fill="#3a4656"/><circle cx="19.200" cy="15.300" r=".7" fill="#3a4656"/>
<path d="M14.300 18.700 L16.200 18.700 L15.250 20Z" fill="#4a3020"/></svg><div class="t">Lots of effort fixing last<br>minute issues in the release</div></div>
<div class="card b" style="--dx:-0.4px;left:611px;top:575px;width:268.5px;height:60px"><svg class="av" viewBox="0 0 30 30"><circle cx="15" cy="15" r="15" fill="#cfdf38"/>
<path d="M8 5.600 C9.600 7.500 12.800 10.300 14.600 12.300 L11 13.800 C9.600 11.300 8.300 8.300 8 5.600Z" fill="#a67a48"/>
<path d="M22 5.600 C20.400 7.500 17.200 10.300 15.400 12.300 L19 13.800 C20.400 11.300 21.700 8.300 22 5.600Z" fill="#a67a48"/>
<ellipse cx="15" cy="16" rx="4.900" ry="5.200" fill="#cb9856"/>
<ellipse cx="15" cy="23" rx="9.500" ry="4.900" fill="#b97a35"/>
<ellipse cx="15" cy="22.500" rx="8.200" ry="3.900" fill="#d9a066"/>
<ellipse cx="10.800" cy="22.600" rx="2.500" ry="1.700" fill="#ecb79a"/><ellipse cx="19.200" cy="22.600" rx="2.500" ry="1.700" fill="#ecb79a"/>
<ellipse cx="15" cy="24.300" rx="4.600" ry="1.500" fill="#f5e9dc"/>
<ellipse cx="11.700" cy="16.700" rx=".8" ry="1.200" fill="#2f2016"/><ellipse cx="18.300" cy="16.700" rx=".8" ry="1.200" fill="#2f2016"/>
<path d="M13.800 18.600 L16.200 18.600 L15 21Z" fill="#a8713a"/></svg><div class="t">Standup meeting discipline<br><span class="meta blk"><svg class="mi" viewBox="0 0 12 12"><path d="M1.500 2 H10.500 V8.500 H5.500 L3.600 10.600 V8.500 H1.500Z" fill="none" stroke="currentColor" stroke-width="1" stroke-linejoin="round"/></svg>1</span></div></div>
<div class="card b" style="--dx:-0.4px;left:611px;top:648px;width:268.5px;height:43px"><svg class="av" viewBox="0 0 30 30"><circle cx="15" cy="15" r="15" fill="#cfdf38"/>
<path d="M8 5.600 C9.600 7.500 12.800 10.300 14.600 12.300 L11 13.800 C9.600 11.300 8.300 8.300 8 5.600Z" fill="#a67a48"/>
<path d="M22 5.600 C20.400 7.500 17.200 10.300 15.400 12.300 L19 13.800 C20.400 11.300 21.700 8.300 22 5.600Z" fill="#a67a48"/>
<ellipse cx="15" cy="16" rx="4.900" ry="5.200" fill="#cb9856"/>
<ellipse cx="15" cy="23" rx="9.500" ry="4.900" fill="#b97a35"/>
<ellipse cx="15" cy="22.500" rx="8.200" ry="3.900" fill="#d9a066"/>
<ellipse cx="10.800" cy="22.600" rx="2.500" ry="1.700" fill="#ecb79a"/><ellipse cx="19.200" cy="22.600" rx="2.500" ry="1.700" fill="#ecb79a"/>
<ellipse cx="15" cy="24.300" rx="4.600" ry="1.500" fill="#f5e9dc"/>
<ellipse cx="11.700" cy="16.700" rx=".8" ry="1.200" fill="#2f2016"/><ellipse cx="18.300" cy="16.700" rx=".8" ry="1.200" fill="#2f2016"/>
<path d="M13.800 18.600 L16.200 18.600 L15 21Z" fill="#a8713a"/></svg><div class="t">So much tech debt <span class="meta"><svg class="mi" viewBox="0 0 12 12"><circle cx="6" cy="6" r="4.600" fill="none" stroke="currentColor" stroke-width="1"/><path d="M3.800 6.200 L5.400 7.700 L8.300 4.600" fill="none" stroke="currentColor" stroke-width="1"/></svg>2</span></div></div>
<div class="card b" style="--dx:-0.4px;left:611px;top:705px;width:268.5px;height:43px"><svg class="av" viewBox="0 0 30 30"><circle cx="15" cy="15" r="15" fill="#4caf50"/>
<ellipse cx="8.100" cy="9.200" rx="2.900" ry="4" transform="rotate(-28 8.100 9.200)" fill="#cf8f89"/><ellipse cx="22.300" cy="9.200" rx="2.900" ry="4" transform="rotate(28 22.300 9.200)" fill="#cf8f89"/>
<path d="M15.300 9.800 C19.500 9.800 23 12.500 23.400 17.500 C23.700 22 21 26 15.300 26.200 C9.600 26 6.900 22 7.200 17.500 C7.600 12.500 11.100 9.800 15.300 9.800Z" fill="#7b787c"/>
<path d="M8.200 24 Q15.300 27 22.400 24 L21.500 27.600 Q15.300 29.200 9.100 27.600Z" fill="#3b3531"/>
<ellipse cx="15.300" cy="19.800" rx="4.400" ry="5.800" fill="#cdc5c4"/>
<circle cx="11.600" cy="14.300" r=".95" fill="#2a2223"/><circle cx="19.600" cy="14.300" r=".95" fill="#2a2223"/>
<ellipse cx="15.100" cy="18" rx="1.400" ry="1.700" fill="#d88484"/></svg><div class="t">Successful sprints <span class="meta"><svg class="mi" viewBox="0 0 12 12"><path d="M1.500 2 H10.500 V8.500 H5.500 L3.600 10.600 V8.500 H1.500Z" fill="none" stroke="currentColor" stroke-width="1" stroke-linejoin="round"/></svg>1</span></div></div>
<div class="card o" style="--dx:0.2px;left:905px;top:274px;width:270px;height:60px"><svg class="av" viewBox="0 0 30 30"><circle cx="15" cy="15" r="15" fill="#3a97ef"/>
<path d="M8 22 C7.300 26 10 28.300 15.500 28.300 C21 28.300 23.700 26 23 22 C21 19 10 19 8 22Z" fill="#e7e3dc"/>
<path d="M3.800 9.700 C5 6 8.500 4.700 11.500 5.400 L13.500 6.200 L17.500 6.200 L19.500 5.400 C22.500 4.700 26 6 27.200 9.900 C26.700 13 24.700 15.600 22.600 16.600 L20 19.400 L11 19.400 L8.400 16.600 C6.300 15.600 4.300 13 3.800 9.700Z" fill="#b87a35"/>
<path d="M13.700 6 L17.300 6 L17 12 C17.200 14 19.700 16 20.700 19 C20.700 22.200 18 24 15.500 24 C13 24 10.300 22.200 10.300 19 C11.300 16 13.800 14 14 12Z" fill="#fbfaf7"/>
<circle cx="11.400" cy="13.700" r="1.150" fill="#2a1e18"/><circle cx="19.600" cy="13.700" r="1.150" fill="#2a1e18"/>
<ellipse cx="15.500" cy="20.200" rx="1.750" ry="1.300" fill="#1b1718"/>
<path d="M11 24.500 Q15.500 26.500 20 24.500" stroke="#cfc9c0" stroke-width=".7" fill="none"/></svg><div class="t">Too many meetings and not<br>enough time</div></div>
<div class="card o" style="--dx:0.2px;left:905px;top:347px;width:270px;height:44px"><svg class="av" viewBox="0 0 30 30"><circle cx="15" cy="15" r="15" fill="#f4511e"/>
<path d="M6.500 22 C6 25 8 27.500 11 28.300 L20 28.300 C23 27.500 25 25 24.500 22Z" fill="#b8651f"/>
<path d="M10.200 21.500 L20.200 21.500 L19.400 27.600 Q15.200 29.600 11 27.600Z" fill="#e4ded6"/>
<path d="M7.700 4.800 L13.400 8.800 L8 12.500Z" fill="#c56a1f"/><path d="M23 4.800 L17.300 8.800 L22.700 12.500Z" fill="#c56a1f"/>
<path d="M8.500 6.600 L11.800 9 L8.700 11Z" fill="#dfdad8"/><path d="M22.200 6.600 L18.900 9 L22 11Z" fill="#dfdad8"/>
<path d="M15.350 8.200 C19 8.200 22.500 10.500 23.500 14 C25.500 16 25.600 18.500 24.500 20.200 L15.350 23 L6.200 20.200 C5.100 18.500 5.200 16 7.200 14 C8.200 10.500 11.700 8.200 15.350 8.200Z" fill="#c8701f"/>
<path d="M6.700 19.300 C9.500 18 12.500 18.600 13.800 20 L15.350 21.300 L16.900 20 C18.200 18.600 21.200 18 24 19.300 C23 21.600 20.500 23 18.500 23 L17.500 25.200 L13.200 25.200 L12.200 23 C10.200 23 7.700 21.600 6.700 19.300Z" fill="#f7f0e6"/>
<path d="M10.300 14.700 L13.500 15.800 L10.900 16.500Z" fill="#33251a"/><path d="M20.400 14.700 L17.200 15.800 L19.800 16.500Z" fill="#33251a"/>
<ellipse cx="15.350" cy="20.500" rx="1.300" ry="1" fill="#1d1512"/></svg><div class="t">Scope creep</div></div>
<div class="card o" style="--dx:0.2px;left:905px;top:404px;width:270px;height:44px"><svg class="av" viewBox="0 0 30 30"><circle cx="15" cy="15" r="15" fill="#f4511e"/>
<path d="M6.500 22 C6 25 8 27.500 11 28.300 L20 28.300 C23 27.500 25 25 24.500 22Z" fill="#b8651f"/>
<path d="M10.200 21.500 L20.200 21.500 L19.400 27.600 Q15.200 29.600 11 27.600Z" fill="#e4ded6"/>
<path d="M7.700 4.800 L13.400 8.800 L8 12.500Z" fill="#c56a1f"/><path d="M23 4.800 L17.300 8.800 L22.700 12.500Z" fill="#c56a1f"/>
<path d="M8.500 6.600 L11.800 9 L8.700 11Z" fill="#dfdad8"/><path d="M22.200 6.600 L18.900 9 L22 11Z" fill="#dfdad8"/>
<path d="M15.350 8.200 C19 8.200 22.500 10.500 23.500 14 C25.500 16 25.600 18.500 24.500 20.200 L15.350 23 L6.200 20.200 C5.100 18.500 5.200 16 7.200 14 C8.200 10.500 11.700 8.200 15.350 8.200Z" fill="#c8701f"/>
<path d="M6.700 19.300 C9.500 18 12.500 18.600 13.800 20 L15.350 21.300 L16.900 20 C18.200 18.600 21.200 18 24 19.300 C23 21.600 20.500 23 18.500 23 L17.500 25.200 L13.200 25.200 L12.200 23 C10.200 23 7.700 21.600 6.700 19.300Z" fill="#f7f0e6"/>
<path d="M10.300 14.700 L13.500 15.800 L10.900 16.500Z" fill="#33251a"/><path d="M20.400 14.700 L17.200 15.800 L19.800 16.500Z" fill="#33251a"/>
<ellipse cx="15.350" cy="20.500" rx="1.300" ry="1" fill="#1d1512"/></svg><div class="t">Unclear priorities</div></div>
<div class="card o" style="--dx:0.2px;left:905px;top:461px;width:270px;height:44px"><svg class="av" viewBox="0 0 30 30"><circle cx="15" cy="15" r="15" fill="#f4511e"/>
<path d="M6.500 22 C6 25 8 27.500 11 28.300 L20 28.300 C23 27.500 25 25 24.500 22Z" fill="#b8651f"/>
<path d="M10.200 21.500 L20.200 21.500 L19.400 27.600 Q15.200 29.600 11 27.600Z" fill="#e4ded6"/>
<path d="M7.700 4.800 L13.400 8.800 L8 12.500Z" fill="#c56a1f"/><path d="M23 4.800 L17.300 8.800 L22.700 12.500Z" fill="#c56a1f"/>
<path d="M8.500 6.600 L11.800 9 L8.700 11Z" fill="#dfdad8"/><path d="M22.200 6.600 L18.900 9 L22 11Z" fill="#dfdad8"/>
<path d="M15.350 8.200 C19 8.200 22.500 10.500 23.500 14 C25.500 16 25.600 18.500 24.500 20.200 L15.350 23 L6.200 20.200 C5.100 18.500 5.200 16 7.200 14 C8.200 10.500 11.700 8.200 15.350 8.200Z" fill="#c8701f"/>
<path d="M6.700 19.300 C9.500 18 12.500 18.600 13.800 20 L15.350 21.300 L16.900 20 C18.200 18.600 21.200 18 24 19.300 C23 21.600 20.500 23 18.500 23 L17.500 25.200 L13.200 25.200 L12.200 23 C10.200 23 7.700 21.600 6.700 19.300Z" fill="#f7f0e6"/>
<path d="M10.300 14.700 L13.500 15.800 L10.900 16.500Z" fill="#33251a"/><path d="M20.400 14.700 L17.200 15.800 L19.800 16.500Z" fill="#33251a"/>
<ellipse cx="15.350" cy="20.500" rx="1.300" ry="1" fill="#1d1512"/></svg><div class="t">Missed deadline</div></div>
<div class="card o" style="--dx:0.2px;left:905px;top:518px;width:270px;height:60px"><svg class="av" viewBox="0 0 30 30"><circle cx="15" cy="15" r="15" fill="#fbe634"/>
<path d="M7 22.200 Q15.200 25.500 23.600 22.200 L23 25.800 Q15.200 29.600 7.600 25.800Z" fill="#7a5634"/>
<path d="M5.900 6.400 L11.200 8.600 L6.700 12.800Z" fill="#f7efe6"/><path d="M24.600 6.400 L19.300 8.600 L23.800 12.800Z" fill="#f7efe6"/>
<path d="M15.250 7.800 C20.500 7.800 24.500 10.800 24.500 15.300 C24.500 19.800 20.500 23.200 15.250 23.200 C10 23.200 6 19.800 6 15.300 C6 10.800 10 7.800 15.250 7.800Z" fill="#c9a57f"/>
<ellipse cx="15.250" cy="21.200" rx="4.200" ry="2.100" fill="#f6f0e8"/>
<ellipse cx="11" cy="15.300" rx="2" ry="1.700" fill="#9fb9c9"/><ellipse cx="19.400" cy="15.300" rx="2" ry="1.700" fill="#9fb9c9"/>
<circle cx="11.200" cy="15.300" r=".7" fill="#3a4656"/><circle cx="19.200" cy="15.300" r=".7" fill="#3a4656"/>
<path d="M14.300 18.700 L16.200 18.700 L15.250 20Z" fill="#4a3020"/></svg><div class="t">Competitors beat us to<br>release</div></div>
<div class="card o" style="--dx:0.2px;left:905px;top:592px;width:270px;height:59px"><svg class="av" viewBox="0 0 30 30"><circle cx="15" cy="15" r="15" fill="#9c27b0"/>
<path d="M3.800 21.600 Q15 26.500 26.200 21.600 L24.500 26 Q15 31 5.500 26Z" fill="#393c47"/>
<circle cx="8.300" cy="8" r="2.100" fill="#2b2a30"/><circle cx="21.700" cy="8" r="2.100" fill="#2b2a30"/>
<path d="M15 6.800 C20.500 6.800 24.600 11 24.400 16.500 C24.200 21 20.500 23.400 15 23.400 C9.500 23.400 5.800 21 5.600 16.500 C5.400 11 9.500 6.800 15 6.800Z" fill="#f3f0e5"/>
<ellipse cx="11.300" cy="14.500" rx="1.450" ry="2.500" transform="rotate(28 11.300 14.500)" fill="#34333a"/>
<ellipse cx="18.700" cy="14.500" rx="1.450" ry="2.500" transform="rotate(-28 18.700 14.500)" fill="#34333a"/>
<ellipse cx="15" cy="20.200" rx="1.500" ry=".95" fill="#5f6a6b"/></svg><div class="t">Add tasks to stories during<br>standup <span class="meta"><svg class="mi" viewBox="0 0 12 12"><path d="M1.500 2 H10.500 V8.500 H5.500 L3.600 10.600 V8.500 H1.500Z" fill="none" stroke="currentColor" stroke-width="1" stroke-linejoin="round"/></svg>1</span></div></div>
<div class="abs" style="left:903.400px;top:99.200px;width:240.700px;height:395.500px;background:#fff;box-shadow:0 5px 30px rgba(40,60,70,.13),0 1px 5px rgba(40,60,70,.04)"></div>
<div class="abs" style="left:903.400px;top:99.200px;width:240.700px;height:221px;background:#f6f8f9"></div>
<div class="abs" style="left:903.400px;top:99.200px;width:240.700px;height:2px;background:#768d9a"></div>
<svg class="abs" style="left:1020px;top:95.200px" width="10" height="5" viewBox="0 0 10 5"><path d="M0 5 L5 .3 L10 5Z" fill="#6b8492"/></svg>
<div class="abs" style="left:903.400px;top:319.800px;width:240.700px;height:1px;background:#e3e8eb"></div>
<div class="abs" style="left:903.400px;top:458.800px;width:240.700px;height:1px;background:#e6e9ee"></div>

<div class="vc on" style="left:941.80px;top:114.30px">1</div>
<div class="vc on" style="left:974.35px;top:114.30px">2</div>
<div class="vc on" style="left:1006.90px;top:114.30px">3</div>
<div class="vc" style="left:1039.45px;top:114.30px;background:#2aa9cf;color:#fff;font-weight:700;-webkit-text-stroke:0;box-shadow:0 0 3px 1px rgba(47,183,213,.55)">4</div>
<div class="vc" style="left:1072.00px;top:114.30px;background:#4cc4da;color:#fff;font-weight:700;-webkit-text-stroke:0">5</div>
<div class="vc" style="left:941.80px;top:146.50px">6</div>
<div class="vc" style="left:974.35px;top:146.50px">7</div>
<div class="vc" style="left:1006.90px;top:146.50px">8</div>
<div class="vc" style="left:1039.45px;top:146.50px">9</div>
<div class="vc" style="left:1072.00px;top:146.50px">10</div>
<div class="vc" style="left:941.80px;top:179.10px">11</div>
<div class="vc" style="left:974.35px;top:179.10px">12</div>
<div class="vc" style="left:1006.90px;top:179.10px">13</div>
<div class="vc" style="left:1039.45px;top:179.10px">14</div>
<div class="vc" style="left:1072.00px;top:179.10px">15</div>
<div class="vc" style="left:941.80px;top:211.70px">16</div>
<div class="vc" style="left:974.35px;top:211.70px">17</div>
<div class="vc" style="left:1006.90px;top:211.70px">18</div>
<div class="vc" style="left:1039.45px;top:211.70px">19</div>
<div class="vc" style="left:1072.00px;top:211.70px">20</div>
<div class="vc" style="left:941.80px;top:244.20px">21</div>
<div class="vc" style="left:974.35px;top:244.20px">22</div>
<div class="vc" style="left:1006.90px;top:244.20px">23</div>
<div class="vc" style="left:1039.45px;top:244.20px">24</div>
<div class="vc" style="left:1072.00px;top:244.20px">25</div>
<div class="vc" style="left:941.80px;top:277.00px">26</div>
<div class="vc" style="left:974.35px;top:277.00px">27</div>
<div class="vc" style="left:1006.90px;top:277.00px">28</div>
<div class="vc" style="left:1039.45px;top:277.00px">29</div>
<div class="vc" style="left:1072.00px;top:277.00px"><span style="font-size:20px;position:relative;top:.5px;font-weight:700;-webkit-text-stroke:0">&#8734;</span></div>
<div class="mitem" style="top:330px">Limit per idea</div>
<svg class="chk" style="top:333.5px" viewBox="0 0 11 9"><path d="M1 5 L3.800 7.800 L10 1.200" fill="none" stroke="#c9d0d4" stroke-width="1"/></svg>
<div class="mitem" style="top:364.5px">Limit per topic</div>
<svg class="chk" style="top:368.0px" viewBox="0 0 11 9"><path d="M1 5 L3.800 7.800 L10 1.200" fill="none" stroke="#c9d0d4" stroke-width="1"/></svg>
<div class="mitem" style="top:399.2px">Must cast all votes</div>
<svg class="chk" style="top:402.7px" viewBox="0 0 11 9"><path d="M1 5 L3.800 7.800 L10 1.200" fill="none" stroke="#c9d0d4" stroke-width="1"/></svg>
<div class="mitem red" style="top:433.8px">Unlimited facilitator votes</div>
<svg class="chk" style="top:437.3px" viewBox="0 0 11 9"><path d="M1 5 L3.800 7.800 L10 1.200" fill="none" stroke="#c9d0d4" stroke-width="1"/></svg>
<div class="mitem red" style="top:469.2px;letter-spacing:-.18px">Reset everyone's votes</div>
<div class="abs" style="left:1038px;top:328px;width:20px;height:20px;border-radius:50%;border:1px solid #f5f7f8;color:#e2f2f6;font-size:11px;line-height:17px;text-align:center">&#8722;</div>
<div class="abs" style="left:1064px;top:329px;width:12px;text-align:center;font-size:12px;line-height:16px;color:#c3cacf">1</div>
<div class="abs" style="left:1083px;top:328px;width:20px;height:20px;border-radius:50%;border:1px solid #f5f7f8;color:#e2f2f6;font-size:11px;line-height:17px;text-align:center">+</div>
<div class="abs" style="left:1038px;top:362.5px;width:20px;height:20px;border-radius:50%;border:1px solid #f5f7f8;color:#e2f2f6;font-size:11px;line-height:17px;text-align:center">&#8722;</div>
<div class="abs" style="left:1064px;top:363.5px;width:12px;text-align:center;font-size:12px;line-height:16px;color:#c3cacf">3</div>
<div class="abs" style="left:1083px;top:362.5px;width:20px;height:20px;border-radius:50%;border:1px solid #f5f7f8;color:#e2f2f6;font-size:11px;line-height:17px;text-align:center">+</div>
<div class="abs" style="left:0;top:753px;width:1200px;height:1px;background:rgba(225,230,232,.6)"></div>
</body></html>
